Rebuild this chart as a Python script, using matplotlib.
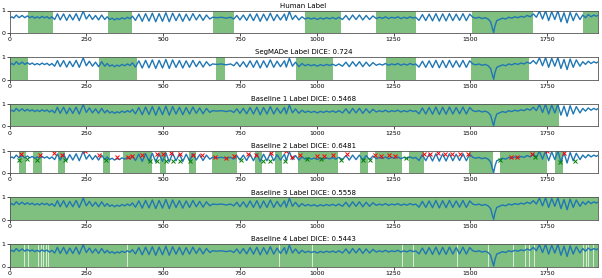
import numpy as np
import matplotlib.pyplot as plt

# signal as (sample index, value) knots
sig_x = [0, 8, 14, 22, 31, 41, 50, 58,
         66, 74, 82, 90, 98, 106, 114, 122, 130, 138,
         147, 156, 165, 176, 186, 196, 206, 217, 227, 240, 250, 260, 270, 280, 290, 300, 310, 318,
         326, 334, 342, 350, 358, 366, 375, 384, 392, 400,
         410, 421, 432, 443, 454, 465, 476, 487, 498, 509, 520, 531, 542, 553, 564, 575, 586, 597,
         608, 619, 630, 641, 652,
         661, 675, 690, 705, 720, 730,
         740, 750, 761, 772, 783, 794, 805, 816, 827, 838, 849, 860, 871, 882, 895, 901, 911, 921,
         931, 942, 952,
         962, 972, 982, 992, 1002, 1012, 1022, 1032, 1042, 1052, 1062, 1072,
         1084, 1095, 1106, 1117, 1128, 1139, 1150, 1161, 1172, 1183,
         1194, 1204, 1214, 1224, 1234, 1244, 1254, 1264, 1274, 1284, 1294, 1304, 1314, 1322,
         1333, 1344, 1355, 1366, 1377, 1388, 1399, 1410, 1421, 1432, 1443, 1454, 1465, 1476, 1487, 1498,
         1508, 1518, 1528, 1538, 1548, 1558, 1566, 1572, 1576, 1580, 1586, 1595, 1605, 1615, 1625,
         1635, 1645, 1655, 1665, 1675, 1685, 1695, 1705,
         1715, 1725, 1735, 1745, 1755, 1765, 1775, 1785, 1795, 1805, 1815, 1825, 1835, 1845, 1857, 1866,
         1875, 1884, 1893, 1902, 1910, 1914]
sig_y = [0.65, 0.72, 0.66, 0.80, 0.68, 0.78, 0.68, 0.76,
         0.68, 0.74, 0.66, 0.72, 0.66, 0.74, 0.67, 0.73, 0.64, 0.72,
         0.60, 0.85, 0.58, 0.85, 0.56, 0.82, 0.58, 0.86, 0.55, 0.97, 0.62, 0.82, 0.60, 0.78, 0.58, 0.80, 0.60, 0.72,
         0.60, 0.66, 0.58, 0.65, 0.60, 0.68, 0.62, 0.70, 0.63, 0.75,
         0.56, 0.84, 0.52, 0.86, 0.53, 0.88, 0.50, 0.86, 0.52, 0.90, 0.50, 0.88, 0.55, 0.85, 0.52, 0.84, 0.55, 0.86,
         0.58, 0.82, 0.56, 0.80, 0.62,
         0.70, 0.68, 0.70, 0.66, 0.70, 0.62,
         0.78, 0.58, 0.80, 0.56, 0.84, 0.55, 0.85, 0.52, 0.84, 0.55, 0.88, 0.55, 0.82, 0.58, 0.84, 0.56, 0.95, 0.60,
         0.78, 0.58, 0.72,
         0.62, 0.68, 0.62, 0.67, 0.60, 0.67, 0.62, 0.68, 0.63, 0.69, 0.62, 0.70,
         0.60, 0.78, 0.58, 0.80, 0.60, 0.80, 0.58, 0.78, 0.60, 0.76,
         0.64, 0.70, 0.65, 0.72, 0.64, 0.70, 0.66, 0.72, 0.64, 0.70, 0.65, 0.72, 0.66, 0.70,
         0.56, 0.82, 0.55, 0.84, 0.54, 0.86, 0.53, 0.85, 0.54, 0.86, 0.55, 0.84, 0.56, 0.86, 0.55, 0.84,
         0.70, 0.66, 0.70, 0.64, 0.68, 0.62, 0.50, 0.20, 0.02, 0.30, 0.55, 0.60, 0.66, 0.62, 0.70,
         0.66, 0.72, 0.68, 0.74, 0.70, 0.78, 0.72, 0.85,
         0.70, 0.97, 0.62, 0.98, 0.55, 0.95, 0.60, 0.98, 0.50, 0.90, 0.45, 0.92, 0.55, 0.88, 0.60, 0.80,
         0.68, 0.82, 0.72, 0.80, 0.74, 0.78]

# labelled segments (start, end)
human_spans = [(61, 141), (322, 400), (661, 730), (961, 1079), (1192, 1323), (1507, 1705), (1867, 1914)]
segmade_spans = [(0, 61), (291, 414), (672, 702), (934, 1052), (1225, 1323), (1501, 1692)]
base1_spans = [(0, 1789)]
base2_spans = [(32, 54), (77, 105), (159, 181), (305, 327), (368, 463), (490, 511), (585, 607),
               (660, 741), (799, 821), (864, 886), (938, 1070), (1141, 1166), (1189, 1276),
               (1301, 1349), (1495, 1574), (1596, 1748), (1775, 1802)]
base3_spans = [(0, 1914)]
base4_gaps = [47, 61, 94, 101, 110, 118, 126, 381, 878, 985, 1279, 1314, 1457, 1558,
              1640, 1678, 1692, 1708, 1867, 1876, 1883, 1900]

# baseline 2 detected peaks / troughs
peak_x = [38, 98, 145, 170, 246, 292, 351, 386, 400, 430, 479, 500, 525, 554, 596, 625, 668, 704,
          730, 777, 802, 850, 899, 920, 947, 1002, 1024, 1054, 1100, 1190, 1210, 1234, 1256, 1348,
          1370, 1396, 1418, 1440, 1467, 1494, 1631, 1651, 1702, 1748, 1804]
peak_y = [0.85, 0.79, 0.9, 0.8, 0.97, 0.8, 0.7, 0.7, 0.74, 0.79, 0.85, 0.85, 0.9, 0.85, 0.79, 0.79,
          0.7, 0.68, 0.74, 0.85, 0.82, 0.9, 0.97, 0.7, 0.8, 0.78, 0.76, 0.8, 0.85, 0.8, 0.78, 0.8,
          0.78, 0.84, 0.86, 0.88, 0.86, 0.86, 0.84, 0.84, 0.7, 0.72, 0.85, 0.98, 0.9]
trough_x = [32, 56, 88, 181, 314, 457, 480, 510, 532, 556, 586, 755, 826, 848, 896, 967, 1015,
            1080, 1150, 1172, 1290, 1596, 1712, 1792, 1840]
trough_y = [0.6, 0.62, 0.6, 0.58, 0.6, 0.53, 0.55, 0.52, 0.55, 0.55, 0.55, 0.58, 0.52, 0.55, 0.56,
            0.62, 0.62, 0.6, 0.58, 0.6, 0.65, 0.6, 0.7, 0.5, 0.55]

titles = ['Human Label', 'SegMADe Label DICE: 0.724', 'Baseline 1 Label DICE: 0.5468',
          'Baseline 2 Label DICE: 0.6481', 'Baseline 3 Label DICE: 0.5558',
          'Baseline 4 Label DICE: 0.5443']

fig = plt.figure(figsize=(6.02, 2.78), dpi=100)
tops = [10.5, 57.2, 103.9, 150.6, 197.3, 244.0]
all_spans = [human_spans, segmade_spans, base1_spans, base2_spans, base3_spans, [(0, 1914)]]

for i, (title, spans) in enumerate(zip(titles, all_spans)):
    ax = fig.add_axes([9.5 / 602, 1 - (tops[i] + 22.5) / 278, 588 / 602, 22.5 / 278])
    for s, e in spans:
        ax.axvspan(s, e, color='g', alpha=0.5, lw=0)
    if i == 5:
        for g in base4_gaps:
            ax.axvline(g, color='white', lw=0.7, alpha=0.7)
    ax.plot(sig_x, sig_y, color='tab:blue', lw=1.0)
    if i == 3:
        ax.plot(peak_x, peak_y, 'x', color='red', ms=2.2, mew=0.7)
        ax.plot(trough_x, trough_y, 'x', color='green', ms=2.2, mew=0.7)
    ax.set_xlim(0, 1914)
    ax.set_ylim(0, 1)
    ax.set_yticks([0, 1])
    ax.set_xticks([0, 250, 500, 750, 1000, 1250, 1500, 1750])
    ax.tick_params(labelsize=4.5, length=2, width=0.5, pad=1)
    for sp in ax.spines.values():
        sp.set_linewidth(0.6)
        sp.set_color('#555555')
    ax.set_title(title, fontsize=5.0, pad=2)

plt.savefig('out.png', dpi=100)
